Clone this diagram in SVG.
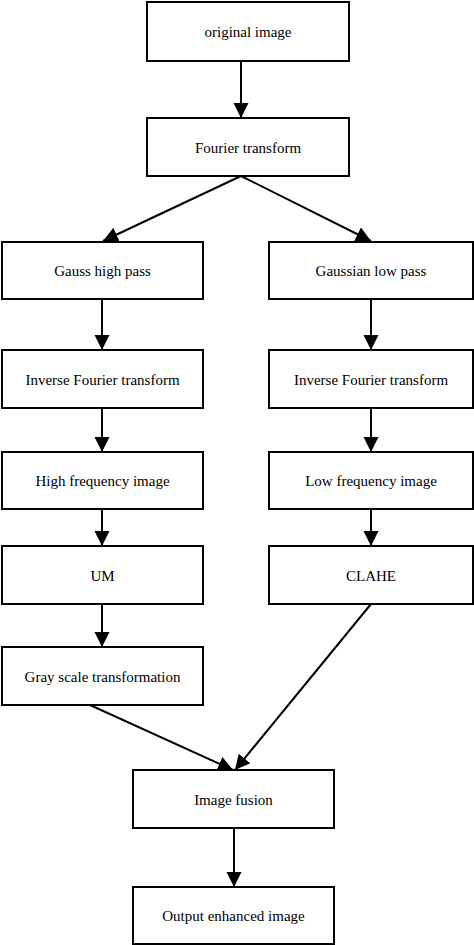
<svg xmlns="http://www.w3.org/2000/svg" width="474" height="945" viewBox="0 0 474 945">
<style>
.box{fill:#fff;stroke:#000;stroke-width:2}
.lbl{font-family:'Liberation Serif','Times New Roman','DejaVu Serif',serif;font-size:15px;fill:#000;text-anchor:middle}
.con{stroke:#000;stroke-width:2;fill:none;marker-end:url(#ah)}
</style>
<defs>
<marker id="ah" markerUnits="userSpaceOnUse" markerWidth="16" markerHeight="16" viewBox="0 0 16 16" refX="15" refY="8" orient="auto">
<path d="M0,0.5 L15,8 L0,15.5 Z" fill="#000"/>
</marker>
</defs>
<rect width="474" height="945" fill="#fff"/>
<g id="connectors">
<line class="con" x1="241" y1="61" x2="241" y2="118"/>
<line class="con" x1="241" y1="176" x2="103" y2="241"/>
<line class="con" x1="241" y1="176" x2="371" y2="241"/>
<line class="con" x1="102" y1="299" x2="102" y2="350"/>
<line class="con" x1="371" y1="299" x2="371" y2="350"/>
<line class="con" x1="102" y1="408" x2="102" y2="452"/>
<line class="con" x1="371" y1="408" x2="371" y2="452"/>
<line class="con" x1="102" y1="509" x2="102" y2="546"/>
<line class="con" x1="371" y1="509" x2="371" y2="546"/>
<line class="con" x1="102" y1="604" x2="102" y2="647"/>
<line class="con" x1="371" y1="604" x2="235" y2="770"/>
<line class="con" x1="90" y1="705" x2="233" y2="770"/>
<line class="con" x1="234" y1="828" x2="234" y2="887"/>
</g>
<g id="n1"><rect class="box" x="147" y="2" width="202" height="59"/><text class="lbl" x="248" y="37">original image</text></g>
<g id="n2"><rect class="box" x="147" y="118" width="202" height="58"/><text class="lbl" x="248" y="153">Fourier transform</text></g>
<g id="n3"><rect class="box" x="2" y="242" width="201" height="57"/><text class="lbl" x="102.5" y="276">Gauss high pass</text></g>
<g id="n4"><rect class="box" x="269" y="242" width="204" height="57"/><text class="lbl" x="371" y="276">Gaussian low pass</text></g>
<g id="n5"><rect class="box" x="2" y="350" width="201" height="58"/><text class="lbl" x="102.5" y="385">Inverse Fourier transform</text></g>
<g id="n6"><rect class="box" x="269" y="350" width="204" height="58"/><text class="lbl" x="371" y="385">Inverse Fourier transform</text></g>
<g id="n7"><rect class="box" x="2" y="452" width="201" height="57"/><text class="lbl" x="102.5" y="486">High frequency image</text></g>
<g id="n8"><rect class="box" x="269" y="452" width="204" height="57"/><text class="lbl" x="371" y="486">Low frequency image</text></g>
<g id="n9"><rect class="box" x="2" y="546" width="201" height="58"/><text class="lbl" x="102.5" y="581">UM</text></g>
<g id="n10"><rect class="box" x="269" y="546" width="204" height="58"/><text class="lbl" x="371" y="581">CLAHE</text></g>
<g id="n11"><rect class="box" x="2" y="647" width="201" height="58"/><text class="lbl" x="102.5" y="682">Gray scale transformation</text></g>
<g id="n12"><rect class="box" x="133" y="770" width="201" height="58"/><text class="lbl" x="233.5" y="805">Image fusion</text></g>
<g id="n13"><rect class="box" x="133" y="887" width="201" height="57"/><text class="lbl" x="233.5" y="921">Output enhanced image</text></g>
</svg>
